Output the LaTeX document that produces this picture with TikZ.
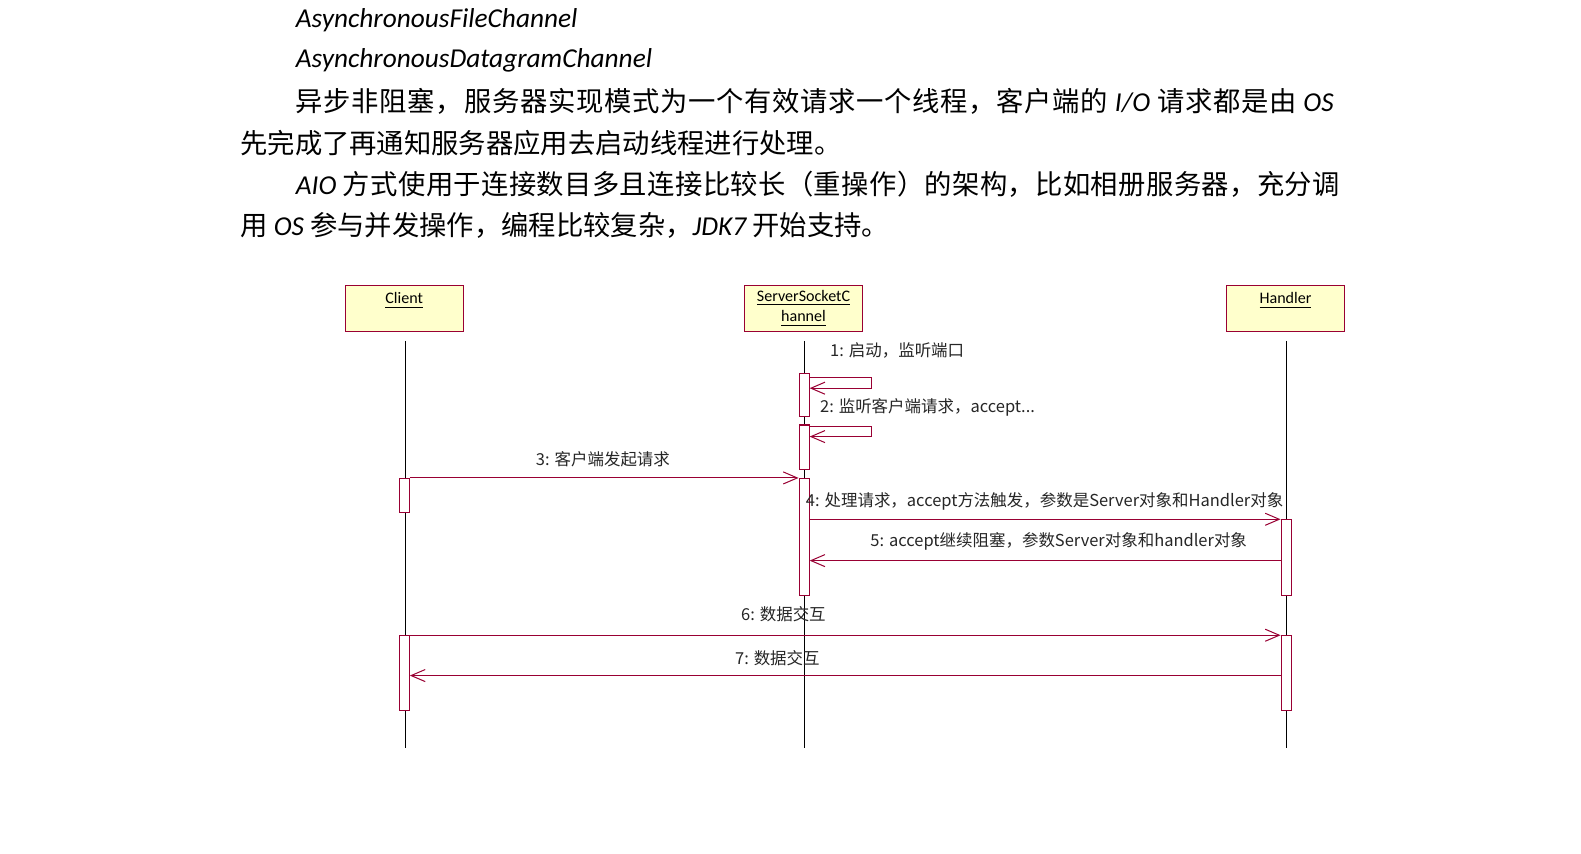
\documentclass[tikz,border=0pt]{standalone}
\usepackage{fontspec}
\setmainfont{Noto Sans CJK SC}
\newfontfamily\carl{Carlito}
\usetikzlibrary{arrows.meta}
\definecolor{uml}{HTML}{990033}
\definecolor{umlfill}{HTML}{FFFFCC}
\newcommand{\lat}[1]{{\carl\itshape #1}}
\tikzset{
 x=0.5bp,y=-0.5bp,
 para/.style={anchor=west,inner sep=0pt,font=\fontsize{13.6}{16}\selectfont},
 head/.style={draw=uml,fill=umlfill,minimum width=58.5bp,minimum height=22.5bp,inner sep=1pt,anchor=north west,font=\fontsize{8}{10}\selectfont\carl,align=center},
 life/.style={draw=black,line width=0.5pt},
 act/.style={draw=uml,fill=white,line width=0.5pt,minimum width=5bp,inner sep=0pt,anchor=north},
 msg/.style={draw=uml,line width=0.5pt,-{Straight Barb[length=7pt,width=6pt]}},
 lbl/.style={font=\fontsize{8.2}{9}\selectfont,inner sep=0pt,text=black!85}
}
\begin{document}
\begin{tikzpicture}
\useasboundingbox (0,0) rectangle (1568,846);
\fill[white] (0,0) rectangle (1568,846);
\node[para] (t1) at (293,20) {\lat{AsynchronousFileChannel}};
\node[para] (t2) at (293,60) {\lat{AsynchronousDatagramChannel}};
\node[para] (t3) at (293,101) {\addfontfeature{LetterSpace=2.6}异步非阻塞，服务器实现模式为一个有效请求一个线程，客户端的 \lat{I/O} 请求都是由 \lat{OS}};
\node[para] (t4) at (238,142) {先完成了再通知服务器应用去启动线程进行处理。};
\node[para] (t5) at (293,183) {\addfontfeature{LetterSpace=1.4}\lat{AIO} 方式使用于连接数目多且连接比较长（重操作）的架构，比如相册服务器，充分调};
\node[para] (t6) at (238,224) {用 \lat{OS} 参与并发操作，编程比较复杂，\lat{JDK7} 开始支持。};
% headers
\node[head] (hc) at (342,283) {\underline{Client}\\\phantom{h}};
\node[head] (hs) at (738,283) {\underline{ServerSocketC}\\\underline{hannel}};
\node[head] (hh) at (1216,283) {\underline{Handler}\\\phantom{h}};
\coordinate (lc1) at (402,338); \coordinate (lc2) at (402,742);
\coordinate (ls1) at (798,338); \coordinate (ls2) at (798,742);
\coordinate (lh1) at (1276,338); \coordinate (lh2) at (1276,742);
\draw[life] (lc1) -- (lc2);
\draw[life] (ls1) -- (ls2);
\draw[life] (lh1) -- (lh2);
% activations
\node[act,minimum height=21.5bp] (s1) at (797.5,370) {};
\node[act,minimum height=22bp] (s2) at (797.5,421) {};
\node[act,minimum height=58bp] (s3) at (797.5,474) {};
\node[act,minimum height=17bp] (c1) at (401,474) {};
\node[act,minimum height=37bp] (c2) at (401,630) {};
\node[act,minimum height=37.5bp] (h1) at (1275.5,515) {};
\node[act,minimum height=37bp] (h2) at (1275.5,630) {};
% self messages
\node[lbl,anchor=west] (l1) at (823,348) {1: 启动，监听端口};
\coordinate (a1) at (864,374); \coordinate (a2) at (864,385);
\draw[msg] (s1.east|-a1) -- (a1) -- (a2) -- (s1.east|-a2);
\node[lbl,anchor=west] (l2) at (813,404) {2: 监听客户端请求，accept...};
\coordinate (b1) at (864,423); \coordinate (b2) at (864,433);
\draw[msg] (s2.east|-b1) -- (b1) -- (b2) -- (s2.east|-b2);
% messages
\node[lbl] (l3) at (598,455) {3: 客户端发起请求};
\draw[msg] (c1.north east) -- (s3.north west);
\node[lbl] (l4) at (1036,497) {4: 处理请求，accept方法触发，参数是Server对象和Handler对象};
\draw[msg] (s3.east|-h1.north) -- (h1.north west);
\node[lbl] (l5) at (1050,537) {5: accept继续阻塞，参数Server对象和handler对象};
\coordinate (m5) at (1270,556);
\draw[msg] (m5) -- (s3.east|-m5);
\node[lbl] (l6) at (777,609) {6: 数据交互};
\draw[msg] (c2.north east) -- (h2.north west);
\node[lbl] (l7) at (771,653) {7: 数据交互};
\coordinate (m7) at (1270,670);
\draw[msg] (m7) -- (c2.east|-m7);
\end{tikzpicture}
\end{document}
